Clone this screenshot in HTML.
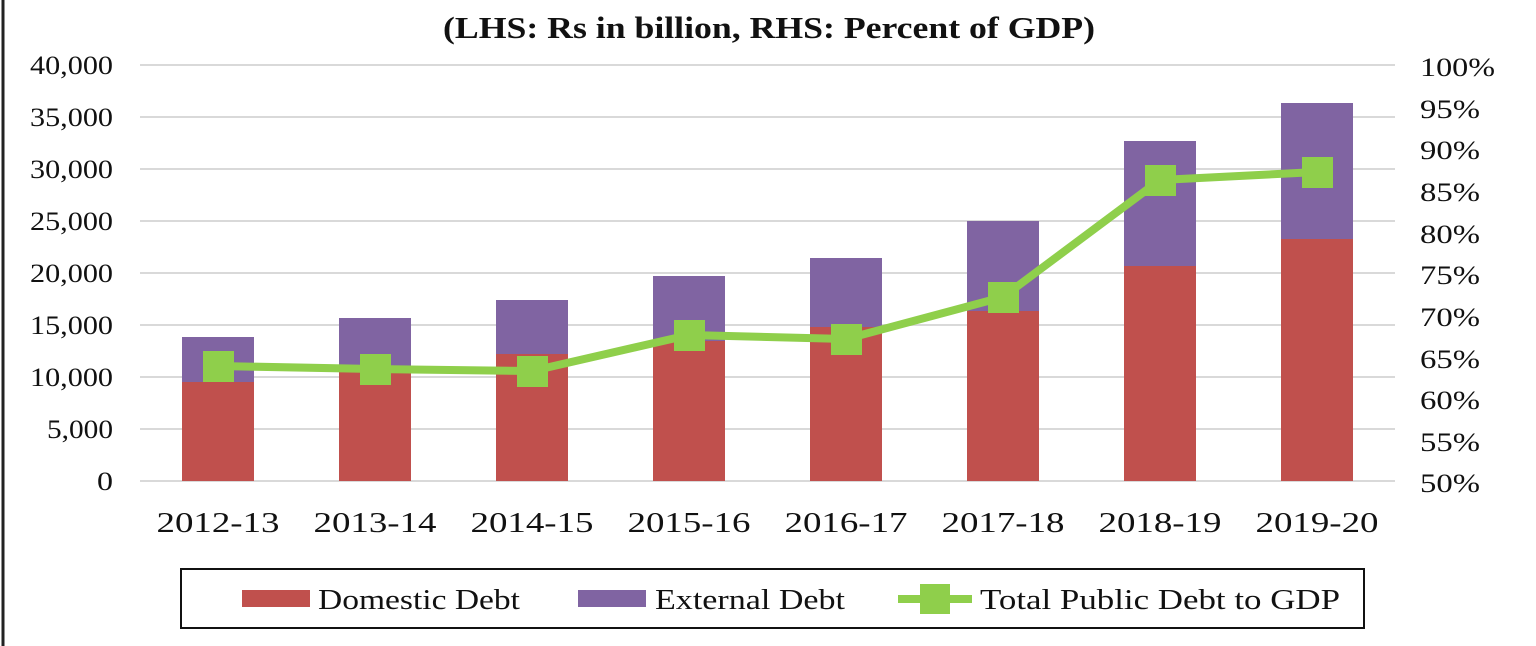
<!DOCTYPE html><html><head><style>body{margin:0;background:#fff;}svg{display:block}</style></head><body>
<svg width="1536" height="646" xmlns="http://www.w3.org/2000/svg" font-family="Liberation Serif, serif">
<rect x="0" y="0" width="1536" height="646" fill="#fff"/>
<line x1="3" y1="0" x2="3" y2="646" stroke="#222" stroke-width="3"/>
<text x="443" y="38" font-size="31" font-weight="bold" fill="#111" textLength="652" lengthAdjust="spacingAndGlyphs">(LHS: Rs in billion, RHS: Percent of GDP)</text>
<g stroke="#d9d9d9" stroke-width="2">
<line x1="140" x2="1395" y1="65" y2="65"/><line x1="140" x2="1395" y1="117" y2="117"/><line x1="140" x2="1395" y1="169" y2="169"/><line x1="140" x2="1395" y1="221" y2="221"/><line x1="140" x2="1395" y1="273" y2="273"/><line x1="140" x2="1395" y1="325" y2="325"/><line x1="140" x2="1395" y1="377" y2="377"/><line x1="140" x2="1395" y1="429" y2="429"/><line x1="140" x2="1395" y1="481" y2="481"/>
</g>
<g font-size="26" fill="#111" text-anchor="end">
<text x="113" y="74" textLength="83" lengthAdjust="spacingAndGlyphs">40,000</text><text x="113" y="126" textLength="83" lengthAdjust="spacingAndGlyphs">35,000</text><text x="113" y="178" textLength="83" lengthAdjust="spacingAndGlyphs">30,000</text><text x="113" y="230" textLength="83" lengthAdjust="spacingAndGlyphs">25,000</text><text x="113" y="282" textLength="83" lengthAdjust="spacingAndGlyphs">20,000</text><text x="113" y="334" textLength="83" lengthAdjust="spacingAndGlyphs">15,000</text><text x="113" y="386" textLength="83" lengthAdjust="spacingAndGlyphs">10,000</text><text x="113" y="438" textLength="66" lengthAdjust="spacingAndGlyphs">5,000</text><text x="113" y="490" textLength="16" lengthAdjust="spacingAndGlyphs">0</text>
</g>
<g font-size="26" fill="#111">
<text x="1420" y="76" textLength="75" lengthAdjust="spacingAndGlyphs">100%</text><text x="1420" y="118" textLength="60" lengthAdjust="spacingAndGlyphs">95%</text><text x="1420" y="159" textLength="60" lengthAdjust="spacingAndGlyphs">90%</text><text x="1420" y="201" textLength="60" lengthAdjust="spacingAndGlyphs">85%</text><text x="1420" y="243" textLength="60" lengthAdjust="spacingAndGlyphs">80%</text><text x="1420" y="284" textLength="60" lengthAdjust="spacingAndGlyphs">75%</text><text x="1420" y="326" textLength="60" lengthAdjust="spacingAndGlyphs">70%</text><text x="1420" y="368" textLength="60" lengthAdjust="spacingAndGlyphs">65%</text><text x="1420" y="409" textLength="60" lengthAdjust="spacingAndGlyphs">60%</text><text x="1420" y="451" textLength="60" lengthAdjust="spacingAndGlyphs">55%</text><text x="1420" y="492" textLength="60" lengthAdjust="spacingAndGlyphs">50%</text>
</g>
<g>
<rect x="182" y="337" width="72" height="45" fill="#8064a2"/><rect x="182" y="382" width="72" height="99" fill="#c0504d"/>
<rect x="339" y="318" width="72" height="54" fill="#8064a2"/><rect x="339" y="372" width="72" height="109" fill="#c0504d"/>
<rect x="496" y="300" width="72" height="54" fill="#8064a2"/><rect x="496" y="354" width="72" height="127" fill="#c0504d"/>
<rect x="653" y="276" width="72" height="65" fill="#8064a2"/><rect x="653" y="341" width="72" height="140" fill="#c0504d"/>
<rect x="810" y="258" width="72" height="69" fill="#8064a2"/><rect x="810" y="327" width="72" height="154" fill="#c0504d"/>
<rect x="967" y="221" width="72" height="90" fill="#8064a2"/><rect x="967" y="311" width="72" height="170" fill="#c0504d"/>
<rect x="1124" y="141" width="72" height="125" fill="#8064a2"/><rect x="1124" y="266" width="72" height="215" fill="#c0504d"/>
<rect x="1281" y="103" width="72" height="136" fill="#8064a2"/><rect x="1281" y="239" width="72" height="242" fill="#c0504d"/>
</g>
<polyline points="218,366 375,369 532,371 689,335 846,339 1003,297 1160,180 1317,172" fill="none" stroke="#8fcf4b" stroke-width="8" stroke-linejoin="round"/>
<g fill="#8fcf4b">
<rect x="203" y="351" width="31" height="31"/><rect x="360" y="354" width="31" height="31"/><rect x="517" y="356" width="31" height="31"/><rect x="674" y="320" width="31" height="31"/><rect x="831" y="324" width="31" height="31"/><rect x="988" y="282" width="31" height="31"/><rect x="1145" y="165" width="31" height="31"/><rect x="1302" y="157" width="31" height="31"/>
</g>
<g font-size="28" fill="#111" text-anchor="middle">
<text x="218" y="532" textLength="123" lengthAdjust="spacingAndGlyphs">2012-13</text><text x="375" y="532" textLength="123" lengthAdjust="spacingAndGlyphs">2013-14</text><text x="532" y="532" textLength="123" lengthAdjust="spacingAndGlyphs">2014-15</text><text x="689" y="532" textLength="123" lengthAdjust="spacingAndGlyphs">2015-16</text><text x="846" y="532" textLength="123" lengthAdjust="spacingAndGlyphs">2016-17</text><text x="1003" y="532" textLength="123" lengthAdjust="spacingAndGlyphs">2017-18</text><text x="1160" y="532" textLength="123" lengthAdjust="spacingAndGlyphs">2018-19</text><text x="1317" y="532" textLength="123" lengthAdjust="spacingAndGlyphs">2019-20</text>
</g>
<rect x="181" y="569" width="1183" height="59" fill="none" stroke="#111" stroke-width="2"/>
<rect x="242" y="590" width="68" height="17" fill="#c0504d"/>
<text x="318" y="609" font-size="28" fill="#111" textLength="202" lengthAdjust="spacingAndGlyphs">Domestic Debt</text>
<rect x="578" y="590" width="68" height="17" fill="#8064a2"/>
<text x="655" y="609" font-size="28" fill="#111" textLength="190" lengthAdjust="spacingAndGlyphs">External Debt</text>
<line x1="898" y1="599" x2="972" y2="599" stroke="#8fcf4b" stroke-width="8"/>
<rect x="920" y="584" width="30" height="30" fill="#8fcf4b"/>
<text x="980" y="609" font-size="28" fill="#111" textLength="360" lengthAdjust="spacingAndGlyphs">Total Public Debt to GDP</text>
</svg>
</body></html>
